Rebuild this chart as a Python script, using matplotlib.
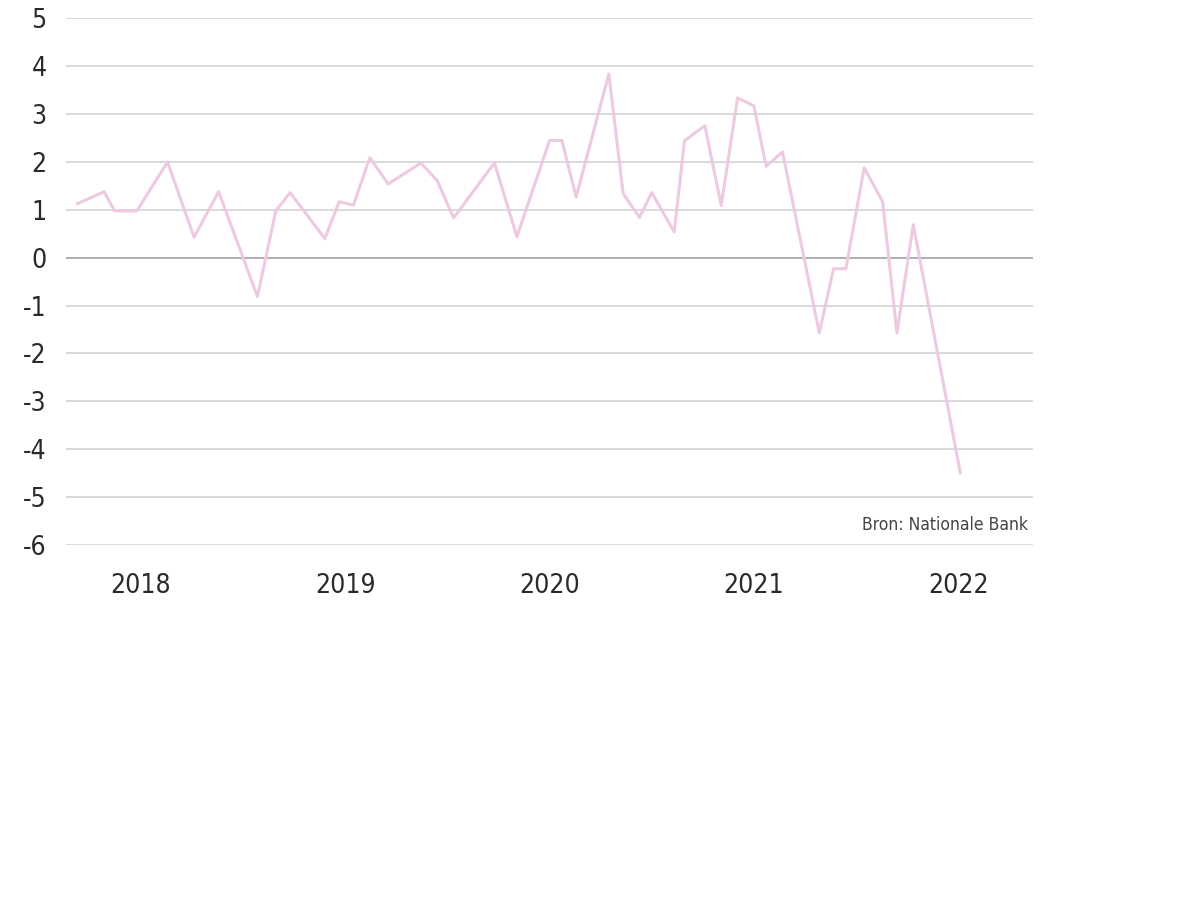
import matplotlib
matplotlib.use('Agg')
import matplotlib.pyplot as plt
import numpy as np

## waarden (x = decimaal jaar)
dates = [2017.69, 2017.82, 2017.87, 2017.98, 2018.13, 2018.26, 2018.38, 2018.57,
         2018.66, 2018.73, 2018.90, 2018.97, 2019.04, 2019.12, 2019.21, 2019.37,
         2019.45, 2019.53, 2019.73, 2019.84, 2020.00, 2020.06, 2020.13, 2020.29,
         2020.36, 2020.44, 2020.50, 2020.61, 2020.66, 2020.76, 2020.84, 2020.92,
         2021.00, 2021.06, 2021.14, 2021.32, 2021.39, 2021.45, 2021.54, 2021.63,
         2021.70, 2021.78, 2022.01]
values = [1.13, 1.38, 0.98, 0.98, 2.00, 0.43, 1.38, -0.81,
          0.98, 1.36, 0.40, 1.17, 1.10, 2.09, 1.54, 1.98,
          1.61, 0.83, 1.98, 0.44, 2.45, 2.45, 1.27, 3.84,
          1.34, 0.84, 1.36, 0.54, 2.44, 2.76, 1.09, 3.34,
          3.17, 1.91, 2.21, -1.57, -0.23, -0.23, 1.88, 1.17,
          -1.57, 0.69, -4.49]
years = [2018, 2019, 2020, 2021, 2022]
yticks = list(range(-6, 6))
source = 'Bron: Nationale Bank'

plt.rcParams['font.family'] = ['DejaVu Sans']
fs = dict(family='DejaVu Sans', stretch='condensed')

fig = plt.figure(figsize=(12, 9.19), dpi=100)
ax = fig.add_axes([0.055, 0.407, 0.806, 0.573])

for v in yticks:
    if v == 0:
        ax.axhline(v, color='#a8a8a8', lw=1.3, zorder=1)
    else:
        ax.axhline(v, color='#cfcfcf', lw=1.1, zorder=1)

ax.plot(dates, values, color='#edc9e2', lw=2.2, zorder=3)

ax.set_xlim(2017.633, 2022.367)
ax.set_ylim(-6, 5)
ax.set_yticks(yticks)
ax.set_yticklabels([str(v) for v in yticks], fontsize=19, color='#2a2a2a', **fs)
ax.set_xticks(years)
ax.set_xticklabels([str(y) for y in years], fontsize=19, color='#2a2a2a', **fs)
ax.tick_params(axis='y', length=0, pad=14)
ax.tick_params(axis='x', length=0, pad=20)
for s in ax.spines.values():
    s.set_visible(False)

ax.text(0.995, 0.02, source, transform=ax.transAxes, ha='right', va='bottom',
        fontsize=12.5, color='#444444', **fs)

fig.savefig('out.png', dpi=100)
